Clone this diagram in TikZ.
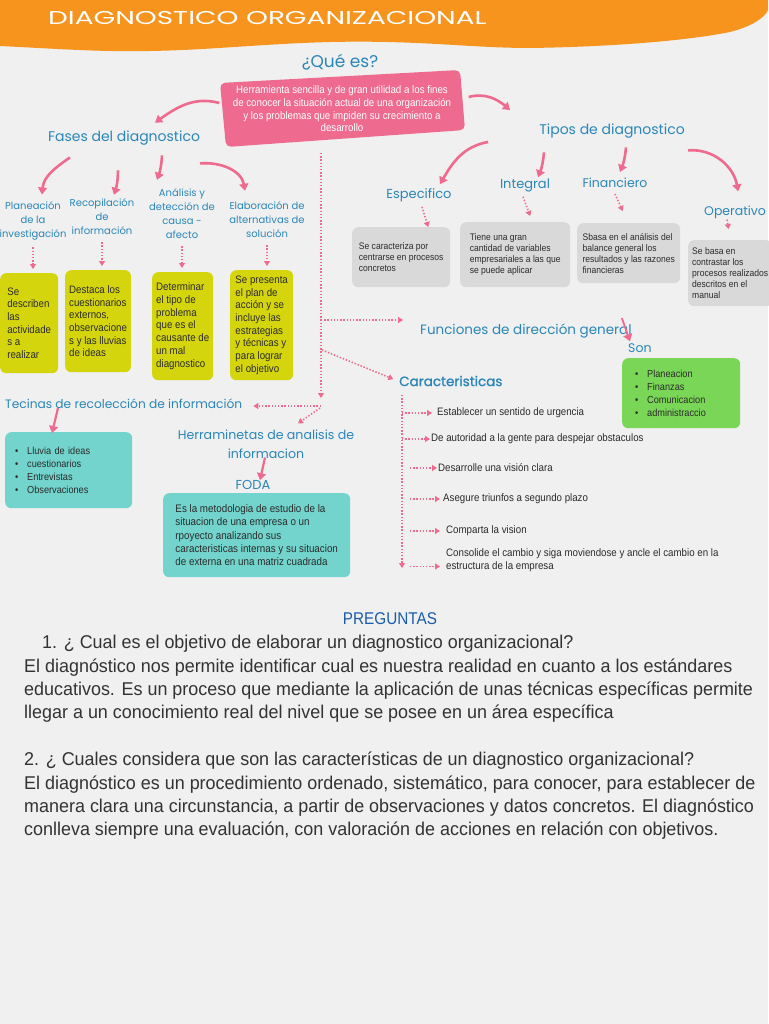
\documentclass[tikz,border=0pt]{standalone}
\usepackage{fontspec}
\setmainfont{Liberation Sans}
\newfontfamily\headf{Poppins}
\newfontfamily\headbf[FakeBold=1.2]{Poppins}
\newfontfamily\bodyf[FakeStretch=0.9]{Liberation Sans}
\newfontfamily\qf[FakeStretch=0.97]{Liberation Sans}
\newfontfamily\titlef[FakeStretch=1.5]{Poppins}
\usetikzlibrary{arrows.meta,positioning,calc}
\definecolor{bgc}{HTML}{F0F0F0}
\definecolor{orc}{HTML}{F7941E}
\definecolor{pkc}{HTML}{EE6A8E}
\definecolor{bluec}{HTML}{2A86B8}
\definecolor{ylc}{HTML}{D5D50E}
\definecolor{gyc}{HTML}{D9D9D9}
\definecolor{tlc}{HTML}{72D4CC}
\definecolor{grc}{HTML}{79D656}
\definecolor{txc}{HTML}{2B2B2B}
\definecolor{qtxt}{HTML}{333333}
\definecolor{qc}{HTML}{1B5CAB}
\newcommand\bul{\makebox[12pt][l]{\textbullet}}
\tikzset{
  pkar/.style={-{Triangle[length=7pt,width=9pt]},line width=2.6pt,pkc},
  dotar/.style={-{Triangle[length=5pt,width=6pt]},line width=1.6pt,pkc,dash pattern=on 1.4pt off 1.8pt},
  hd/.style={font={\headf\fontsize{#1}{19}\selectfont},text=bluec,inner sep=1pt},
  hd/.default=14,
  sub/.style={font={\headf\fontsize{10}{14}\selectfont},text=bluec,align=center,inner sep=1pt},
  card/.style={text=txc,align=left,rounded corners=6pt,anchor=north west,inner sep=4pt},
  ycard/.style={card,fill=ylc,font={\bodyf\fontsize{10.8}{12.7}\selectfont}},
  gcard/.style={card,fill=gyc,font={\bodyf\fontsize{9.5}{11}\selectfont}},
  tcard/.style={card,font={\bodyf\fontsize{10.2}{13.2}\selectfont}},
  itm/.style={font={\bodyf\fontsize{10.8}{13}\selectfont},text=txc,anchor=west,inner sep=0,align=left}
}
\begin{document}
\begin{tikzpicture}[x=1pt,y=-1pt]
\useasboundingbox (0,0) rectangle (768,1024);
\fill[bgc] (0,0) rectangle (768,1024);
\fill[orc] (0,0) -- (0,46) .. controls (60,49) and (100,52) .. (150,51) .. controls (210,50) and (260,44) .. (330,42) .. controls (420,40) and (470,48) .. (530,48) .. controls (600,47) and (680,42) .. (730,32) .. controls (750,27) and (765,18) .. (768,10) -- (768,0) -- cycle;
\node[font={\titlef\fontsize{18.6}{18.6}\selectfont},text=white,anchor=west,inner sep=0] (title) at (48,18) {DIAGNOSTICO ORGANIZACIONAL};

\node[hd=17] (quees) at (340,62) {¿Qué es?};
\fill[pkc,rounded corners=5pt] (220,83) -- (460,70) -- (465,130) -- (226,147) -- cycle;
\node[font={\bodyf\fontsize{10.8}{12.7}\selectfont},text=white,align=center,minimum width=245pt] (desc) at (342,109) {Herramienta sencilla y de gran utilidad a los fines\\de conocer la situación actual de una organización\\y los problemas que impiden su crecimiento a\\desarrollo};

\node[hd] (fases) at (124,138) {Fases del diagnostico};
\node[hd] (tipos) at (612,131) {Tipos de diagnostico};
\draw[pkar] ($(desc.west)+(0,-6)$) to[out=165,in=35] ($(fases.north)+(31,-7)$);
\draw[pkar] ($(desc.east)+(4,-12)$) to[out=15,in=140] ($(tipos.west)+(-28,-21)$);

\node[sub] (plan) at (33,221) {Planeación\\de la\\investigación};
\node[sub] (reco) at (102,217) {Recopilación\\de\\información};
\node[sub] (anal) at (182,214) {Análisis y\\detección de\\causa -\\afecto};
\node[sub] (elab) at (267,220) {Elaboración de\\alternativas de\\solución};
\draw[pkar] ($(fases.south)+(-54,11)$) to[out=215,in=85] ($(plan.north)+(9,-6)$);
\draw[pkar] ($(fases.south)+(-6,24)$) to[bend left=8] ($(reco.north)+(12,-3)$);
\draw[pkar] ($(fases.south)+(38,9)$) to[bend left=8] ($(anal.north)+(-25,-8)$);
\draw[pkar] ($(fases.south)+(76,17)$) to[out=5,in=100] ($(elab.north)+(-22,-10)$);

\node[ycard,minimum width=58pt,minimum height=100pt] (y1) at (0,273) {Se\\describen\\las\\actividade\\s a\\realizar};
\node[ycard,minimum width=63pt,minimum height=102pt] (y2) at (65,270) {Destaca los\\cuestionarios\\externos,\\observacione\\s y las lluvias\\de ideas};
\node[ycard,minimum width=61pt,minimum height=108pt] (y3) at (152,272) {Determinar\\el tipo de\\problema\\que es el\\causante de\\un mal\\diagnostico};
\node[ycard,minimum width=63pt,minimum height=110pt] (y4) at (230,270) {Se presenta\\el plan de\\acción y se\\incluye las\\estrategias\\y técnicas y\\para lograr\\el objetivo};
\foreach \a/\b in {plan/y1,reco/y2,anal/y3,elab/y4}
  \draw[dotar,shorten <=6pt,shorten >=4pt] (\a.south) -- (\a.south |- \b.north);

\node[hd=13] (espe) at (419,195) {Especifico};
\node[hd=13] (inte) at (525,185) {Integral};
\node[hd=12.5] (fina) at (615,183) {Financiero};
\node[hd=12.5,anchor=west] (oper) at (703,212) {Operativo};
\draw[pkar] ($(tipos.west)+(-50,11)$) to[out=190,in=60] ($(espe.north)+(21,-3)$);
\draw[pkar] ($(tipos.south)+(-68,13)$) to[bend left=8] ($(inte.north)+(13,0)$);
\draw[pkar] ($(tipos.south)+(14,8)$) to[bend left=8] ($(fina.north)+(5,-5)$);
\draw[pkar] ($(tipos.south)+(76,11)$) to[out=5,in=100] ($(oper.north)+(3,-13)$);

\node[gcard,minimum width=98pt,minimum height=60pt] (g1) at (352,227) {Se caracteriza por\\centrarse en procesos\\concretos};
\node[gcard,minimum width=110pt,minimum height=65pt] (g2) at (460,222) {Tiene una gran\\cantidad de variables\\empresariales a las que\\se puede aplicar};
\node[gcard,minimum width=103pt,minimum height=60pt] (g3) at (577,223) {Sbasa en el análisis del\\balance general los\\resultados y las razones\\financieras};
\node[gcard,minimum width=84pt,minimum height=66pt] (g4) at (688,240) {Se basa en\\contrastar los\\procesos realizados\\descritos en el\\manual};
\draw[dotar] ($(espe.south)+(3,4)$) -- ($(g1.north)+(27,0)$);
\draw[dotar] ($(inte.south)+(-2,4)$) -- ($(g2.north)+(15,-6)$);
\draw[dotar] ($(fina.south)+(0,5)$) -- ($(g3.north)+(-6,-12)$);
\draw[dotar,shorten >=11pt] ($(oper.south)+(-8,0)$) -- ($(g4.north)+(0,0)$);

\coordinate (trtop) at (321,153);
\coordinate (trbot) at (321,398);
\coordinate (br1) at (321,320);
\coordinate (br2) at (322,350);
\coordinate (br3) at (321,406);
\coordinate (br4) at (320,408);
\node[hd=13.5,anchor=west] (func) at (419,331) {Funciones de dirección general};
\node[font={\headbf\fontsize{13.5}{14}\selectfont},text=bluec,inner sep=1pt,anchor=west] (carac) at (398,381) {Caracteristicas};
\node[hd=12.2,anchor=west] (tec) at (4,404) {Tecinas de recolección de información};
\node[hd=12.6,align=center] (herr) at (266,444) {Herraminetas de analisis de\\informacion};
\node[hd=13] (foda) at (253,485) {FODA};
\draw[dotar] (trtop) -- (trbot);
\draw[dotar,shorten >=16pt] (br1) -- (br1 -| func.west);
\draw[dotar,shorten >=5pt] (br2) -- (carac.west);
\draw[dotar] (br3) -- ($(tec.east)+(10,2)$);
\draw[dotar] (br4) -- ($(herr.north)+(32,-5)$);

\node[hd=12.5,anchor=west] (son) at (627,348) {Son};
\draw[pkar,line width=1.8pt] ($(func.east)+(-11,-13)$) -- ($(son.north west)+(3,-1)$);
\node[tcard,fill=grc,text width=92pt,inner xsep=13pt,minimum height=70pt] (fun) at (622,358) {\bul Planeacion\\\bul Finanzas\\\bul Comunicacion\\\bul administraccio};

\node[tcard,fill=tlc,text width=107pt,inner xsep=10pt,minimum height=76pt] (tecb) at (5,432) {\bul Lluvia de ideas\\\bul cuestionarios\\\bul Entrevistas\\\bul Observaciones};
\draw[pkar,line width=2.2pt] ($(tec.south west)+(54,-2)$) -- ($(tecb.north west)+(47,1)$);
\draw[pkar,line width=2.2pt] ($(herr.south)+(-1,-2)$) -- ($(foda.north)+(7,1)$);
\node[tcard,fill=tlc,minimum width=187pt,minimum height=84pt,font={\bodyf\fontsize{10.9}{13.4}\selectfont}] (fodab) at (163,493) {Es la metodologia de estudio de la\\situacion de una empresa o un\\rpoyecto analizando sus\\caracteristicas internas y su situacion\\de externa en una matriz cuadrada};

\coordinate (ctop) at (402,395);
\coordinate (cbot) at (402,568);
\node[itm] (i1) at (437,413) {Establecer un sentido de urgencia};
\node[itm] (i2) at (431,439) {De autoridad a la gente para despejar obstaculos};
\node[itm] (i3) at (438,468) {Desarrolle una visión clara};
\node[itm] (i4) at (443,499) {Asegure triunfos a segundo plazo};
\node[itm] (i5) at (446,531) {Comparta la vision};
\node[itm] (i6) at (446,560.5) {Consolide el cambio y siga moviendose y ancle el cambio en la\\estructura de la empresa};
\path ($(i6.west)+(0,6)$) coordinate (i6a);
\draw[dotar] (ctop) -- (cbot);
\draw[dotar,shorten >=5pt] (ctop |- i1.west) -- (i1.west);
\draw[dotar,shorten >=1pt] (ctop |- i2.west) -- (i2.west);
\draw[dotar,shorten <=8pt,shorten >=1pt] (ctop |- i3.west) -- (i3.west);
\draw[dotar,shorten <=8pt,shorten >=3pt] (ctop |- i4.west) -- (i4.west);
\draw[dotar,shorten <=8pt,shorten >=6pt] (ctop |- i5.west) -- (i5.west);
\draw[dotar,shorten <=8pt,shorten >=6pt] (ctop |- i6a) -- (i6a);

\node[font={\bodyf\fontsize{17}{17}\selectfont},text=qc] (preg) at (390,619) {PREGUNTAS};
\node[font={\qf\fontsize{18.5}{23.4}\selectfont},text=qtxt,align=left,anchor=north west,inner sep=0] (resp) at (24,635) {\hspace*{18pt}1. ¿ Cual es el objetivo de elaborar un diagnostico organizacional?\\El diagnóstico nos permite identificar cual es nuestra realidad en cuanto a los estándares\\educativos. Es un proceso que mediante la aplicación de unas técnicas específicas permite\\llegar a un conocimiento real del nivel que se posee en un área específica\\[23.4pt]2. ¿ Cuales considera que son las características de un diagnostico organizacional?\\El diagnóstico es un procedimiento ordenado, sistemático, para conocer, para establecer de\\manera clara una circunstancia, a partir de observaciones y datos concretos. El diagnóstico\\conlleva siempre una evaluación, con valoración de acciones en relación con objetivos.};
\end{tikzpicture}
\end{document}
